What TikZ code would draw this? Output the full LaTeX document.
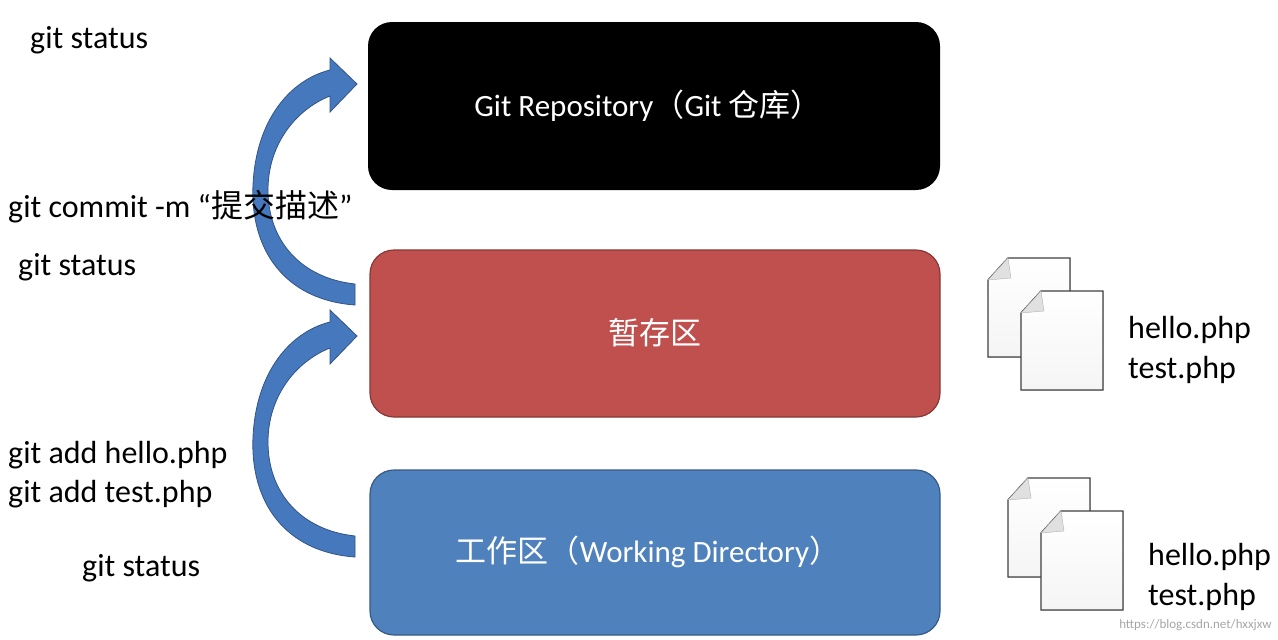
\documentclass[tikz,border=0pt]{standalone}
\usepackage{fontspec}
\setmainfont{Carlito}
\newfontfamily\cjk{Noto Sans CJK SC}
\begin{document}
\begin{tikzpicture}[x=1pt,y=-1pt,
  lbl/.style={font=\fontsize{32}{34}\selectfont,anchor=west,inner sep=0pt},
  btxt/.style={font=\fontsize{31}{34}\selectfont,text=white},
  doc/.style={draw=black!75,line width=1.3pt,top color=white,bottom color=black!4}]
\useasboundingbox (0,0) rectangle (1278,640);
\definecolor{arrc}{RGB}{70,120,190}
\definecolor{redb}{RGB}{192,80,77}
\definecolor{blueb}{RGB}{79,129,189}
% boxes
\fill[rounded corners=24pt,black] (368,22) rectangle (940,190);
\node[btxt] (repo) at (648,106) {Git Repository{\cjk （}Git {\cjk 仓库）}};
\filldraw[rounded corners=24pt,fill=redb,draw=redb!70!black,line width=1.2pt] (370,250) rectangle (940,417);
\node[btxt] (stage) at (655,333) {\cjk 暂存区};
\filldraw[rounded corners=24pt,fill=blueb,draw=blueb!70!black,line width=1.2pt] (370,470) rectangle (940,635);
\node[btxt] (work) at (648,552) {{\cjk 工作区（}Working Directory{\cjk ）}};
% arrows
\foreach \dy in {0,252}{
\begin{scope}[yshift=-\dy]
\filldraw[fill=arrc,draw=arrc!70!black,line width=0.8pt]
  (355,305) .. controls (285,300) and (250,250) .. (253,185)
  .. controls (256,120) and (290,80) .. (330,70)
  -- (330,58) -- (357,84) -- (330,112) -- (330,96)
  .. controls (295,110) and (268,145) .. (268,190)
  .. controls (268,240) and (300,278) .. (355,284) -- cycle;
\end{scope}}
% left labels
\node[lbl] (s1) at (30,40) {git status};
\node[lbl] (c1) at (8,207) {git commit -m “{\cjk 提交描述}”};
\node[lbl] (s2) at (18,267) {git status};
\node[lbl] (a1) at (8,455) {git add hello.php};
\node[lbl] (a2) at (8,494) {git add test.php};
\node[lbl] (s3) at (82,568) {git status};
% docs
\foreach \x/\y in {988/258,1008/478}{
 \foreach \o in {0,33}{
  \filldraw[doc] (\x+\o+20,\y+\o) -- (\x+\o+82,\y+\o) -- (\x+\o+82,\y+\o+99) -- (\x+\o,\y+\o+99) -- (\x+\o,\y+\o+22) -- cycle;
  \filldraw[fill=black!12,draw=black!30] (\x+\o+20,\y+\o) -- (\x+\o+23,\y+\o+20) -- (\x+\o,\y+\o+22) -- cycle;
 }}
\node[lbl] (h1) at (1128,330) {hello.php};
\node[lbl] (t1) at (1128,370) {test.php};
\node[lbl] (h2) at (1148,557) {hello.php};
\node[lbl] (t2) at (1148,597) {test.php};
\node[anchor=east,text=black!35,font=\fontsize{13}{14}\selectfont,inner sep=0pt] (wm) at (1272,625) {https://blog.csdn.net/hxxjxw};
\end{tikzpicture}
\end{document}
